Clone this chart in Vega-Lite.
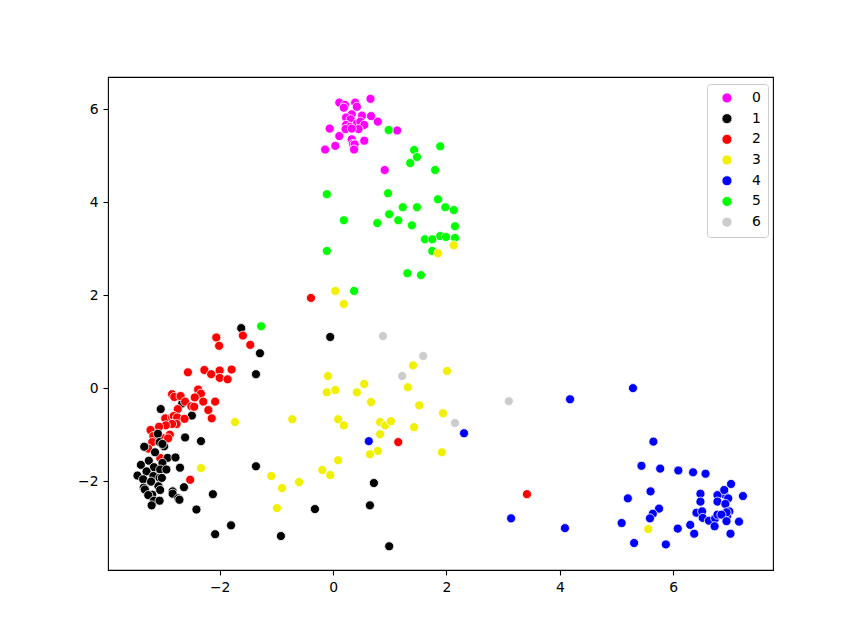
{"$schema":"https://vega.github.io/schema/vega-lite/v6.json","width":665,"height":493,"autosize":{"type":"none"},"padding":{"left":108,"top":77,"right":86,"bottom":69},"background":"white","config":{"view":{"stroke":"black","strokeWidth":1.1},"font":"DejaVu Sans"},
"data":{"values":[
{"x":-2.66,"y":-0.33,"c":"1"},{"x":-3.04,"y":-0.45,"c":"1"},{"x":-2.49,"y":-0.59,"c":"1"},{"x":-1.62,"y":1.29,"c":"1"},{"x":-0.05,"y":1.1,"c":"1"},{"x":-1.29,"y":0.75,"c":"1"},{"x":-1.36,"y":0.3,"c":"1"},
{"x":0.11,"y":6.14,"c":"0"},{"x":0.21,"y":6.09,"c":"0"},{"x":0.19,"y":6.03,"c":"0"},{"x":0.39,"y":6.14,"c":"0"},{"x":0.42,"y":6.05,"c":"0"},{"x":0.66,"y":6.22,"c":"0"},{"x":0.33,"y":5.89,"c":"0"},{"x":0.51,"y":5.86,"c":"0"},{"x":0.67,"y":5.85,"c":"0"},{"x":0.79,"y":5.73,"c":"0"},{"x":0.23,"y":5.82,"c":"0"},{"x":0.31,"y":5.78,"c":"0"},{"x":0.42,"y":5.69,"c":"0"},{"x":0.48,"y":5.73,"c":"0"},{"x":0.23,"y":5.66,"c":"0"},{"x":0.55,"y":5.66,"c":"0"},{"x":0.3,"y":5.62,"c":"0"},{"x":0.22,"y":5.57,"c":"0"},{"x":0.45,"y":5.57,"c":"0"},{"x":0.33,"y":5.58,"c":"0"},{"x":-0.06,"y":5.58,"c":"0"},{"x":1.13,"y":5.54,"c":"0"},{"x":0.11,"y":5.42,"c":"0"},{"x":0.33,"y":5.35,"c":"0"},{"x":0.55,"y":5.32,"c":"0"},{"x":0.35,"y":5.25,"c":"0"},{"x":0.38,"y":5.24,"c":"0"},{"x":0.04,"y":5.21,"c":"0"},{"x":0.37,"y":5.13,"c":"0"},{"x":-0.14,"y":5.13,"c":"0"},{"x":0.91,"y":4.69,"c":"0"},
{"x":0.98,"y":5.55,"c":"5"},{"x":1.43,"y":5.12,"c":"5"},{"x":1.48,"y":4.97,"c":"5"},{"x":1.36,"y":4.84,"c":"5"},{"x":1.89,"y":5.2,"c":"5"},{"x":1.8,"y":4.69,"c":"5"},{"x":-0.11,"y":4.17,"c":"5"},{"x":0.97,"y":4.19,"c":"5"},{"x":0.19,"y":3.61,"c":"5"},{"x":1.85,"y":4.06,"c":"5"},{"x":1.98,"y":3.89,"c":"5"},{"x":2.13,"y":3.83,"c":"5"},{"x":1.23,"y":3.89,"c":"5"},{"x":1.48,"y":3.89,"c":"5"},{"x":0.99,"y":3.74,"c":"5"},{"x":1.15,"y":3.61,"c":"5"},{"x":1.39,"y":3.5,"c":"5"},{"x":0.78,"y":3.55,"c":"5"},{"x":2.15,"y":3.48,"c":"5"},{"x":2.15,"y":3.23,"c":"5"},{"x":1.62,"y":3.2,"c":"5"},{"x":1.75,"y":3.2,"c":"5"},{"x":1.89,"y":3.27,"c":"5"},{"x":1.99,"y":3.25,"c":"5"},{"x":1.75,"y":2.95,"c":"5"},{"x":-0.11,"y":2.95,"c":"5"},{"x":1.31,"y":2.47,"c":"5"},{"x":1.55,"y":2.43,"c":"5"},{"x":0.37,"y":2.09,"c":"5"},{"x":-1.27,"y":1.33,"c":"5"},
{"x":1.85,"y":2.9,"c":"3"},{"x":2.13,"y":3.07,"c":"3"},{"x":0.04,"y":2.09,"c":"3"},{"x":0.19,"y":1.81,"c":"3"},{"x":-0.09,"y":0.26,"c":"3"},{"x":-0.11,"y":-0.09,"c":"3"},{"x":0.04,"y":-0.04,"c":"3"},{"x":0.42,"y":-0.09,"c":"3"},{"x":0.55,"y":0.09,"c":"3"},{"x":0.67,"y":-0.3,"c":"3"},{"x":1.41,"y":0.49,"c":"3"},{"x":1.32,"y":0.02,"c":"3"},{"x":2.01,"y":0.37,"c":"3"},{"x":1.94,"y":-0.54,"c":"3"},{"x":1.52,"y":-0.37,"c":"3"},{"x":1.43,"y":-0.84,"c":"3"},{"x":1.92,"y":-1.38,"c":"3"},{"x":-0.72,"y":-0.67,"c":"3"},{"x":-1.73,"y":-0.73,"c":"3"},{"x":0.09,"y":-0.67,"c":"3"},{"x":0.19,"y":-0.8,"c":"3"},{"x":0.83,"y":-0.73,"c":"3"},{"x":0.92,"y":-0.8,"c":"3"},{"x":1.02,"y":-0.71,"c":"3"},{"x":0.83,"y":-0.99,"c":"3"},{"x":0.79,"y":-1.35,"c":"3"},{"x":0.65,"y":-1.42,"c":"3"},{"x":0.09,"y":-1.55,"c":"3"},{"x":-0.19,"y":-1.76,"c":"3"},{"x":-0.05,"y":-1.87,"c":"3"},{"x":-1.09,"y":-1.89,"c":"3"},{"x":-0.6,"y":-2.02,"c":"3"},{"x":-0.9,"y":-2.15,"c":"3"},{"x":-0.99,"y":-2.58,"c":"3"},{"x":-2.33,"y":-1.72,"c":"3"},{"x":5.56,"y":-3.03,"c":"3"},
{"x":0.88,"y":1.12,"c":"6"},{"x":1.22,"y":0.26,"c":"6"},{"x":1.59,"y":0.69,"c":"6"},{"x":3.1,"y":-0.28,"c":"6"},{"x":2.15,"y":-0.75,"c":"6"},
{"x":0.63,"y":-1.14,"c":"4"},{"x":2.31,"y":-0.97,"c":"4"},{"x":4.18,"y":-0.24,"c":"4"},{"x":5.29,"y":0,"c":"4"},{"x":3.14,"y":-2.8,"c":"4"},{"x":4.09,"y":-3.01,"c":"4"},{"x":5.65,"y":-1.15,"c":"4"},{"x":5.44,"y":-1.67,"c":"4"},{"x":5.77,"y":-1.73,"c":"4"},{"x":6.09,"y":-1.77,"c":"4"},{"x":6.35,"y":-1.81,"c":"4"},{"x":6.57,"y":-1.84,"c":"4"},{"x":7.02,"y":-2.06,"c":"4"},{"x":5.6,"y":-2.22,"c":"4"},{"x":5.2,"y":-2.37,"c":"4"},{"x":6.48,"y":-2.27,"c":"4"},{"x":6.48,"y":-2.44,"c":"4"},{"x":6.9,"y":-2.28,"c":"4"},{"x":6.78,"y":-2.3,"c":"4"},{"x":6.9,"y":-2.19,"c":"4"},{"x":6.78,"y":-2.44,"c":"4"},{"x":6.97,"y":-2.37,"c":"4"},{"x":6.92,"y":-2.49,"c":"4"},{"x":7.23,"y":-2.32,"c":"4"},{"x":5.75,"y":-2.59,"c":"4"},{"x":5.64,"y":-2.7,"c":"4"},{"x":5.59,"y":-2.8,"c":"4"},{"x":5.09,"y":-2.9,"c":"4"},{"x":6.41,"y":-2.68,"c":"4"},{"x":6.51,"y":-2.65,"c":"4"},{"x":6.52,"y":-2.79,"c":"4"},{"x":6.63,"y":-2.85,"c":"4"},{"x":6.74,"y":-2.8,"c":"4"},{"x":6.78,"y":-2.72,"c":"4"},{"x":6.99,"y":-2.65,"c":"4"},{"x":6.95,"y":-2.75,"c":"4"},{"x":6.94,"y":-2.67,"c":"4"},{"x":6.85,"y":-2.72,"c":"4"},{"x":6.94,"y":-2.86,"c":"4"},{"x":6.73,"y":-2.97,"c":"4"},{"x":7.16,"y":-2.87,"c":"4"},{"x":6.3,"y":-2.94,"c":"4"},{"x":6.08,"y":-3.02,"c":"4"},{"x":6.37,"y":-3.13,"c":"4"},{"x":7.01,"y":-3.13,"c":"4"},{"x":5.31,"y":-3.33,"c":"4"},{"x":5.87,"y":-3.36,"c":"4"},
{"x":-0.39,"y":1.94,"c":"2"},{"x":1.15,"y":-1.16,"c":"2"},{"x":3.42,"y":-2.28,"c":"2"},{"x":-2.06,"y":1.09,"c":"2"},{"x":-1.59,"y":1.13,"c":"2"},{"x":-2.01,"y":0.91,"c":"2"},{"x":-1.46,"y":0.93,"c":"2"},{"x":-2.56,"y":0.34,"c":"2"},{"x":-2.27,"y":0.39,"c":"2"},{"x":-2.15,"y":0.3,"c":"2"},{"x":-2.0,"y":0.38,"c":"2"},{"x":-1.79,"y":0.4,"c":"2"},{"x":-2.0,"y":0.22,"c":"2"},{"x":-1.86,"y":0.19,"c":"2"},{"x":-2.38,"y":-0.03,"c":"2"},{"x":-2.33,"y":-0.12,"c":"2"},{"x":-2.84,"y":-0.13,"c":"2"},{"x":-2.8,"y":-0.19,"c":"2"},{"x":-2.69,"y":-0.17,"c":"2"},{"x":-2.44,"y":-0.2,"c":"2"},{"x":-2.61,"y":-0.29,"c":"2"},{"x":-2.29,"y":-0.29,"c":"2"},{"x":-2.08,"y":-0.29,"c":"2"},{"x":-2.5,"y":-0.39,"c":"2"},{"x":-2.45,"y":-0.4,"c":"2"},{"x":-2.74,"y":-0.45,"c":"2"},{"x":-2.2,"y":-0.47,"c":"2"},{"x":-2.14,"y":-0.65,"c":"2"},{"x":-2.96,"y":-0.65,"c":"2"},{"x":-2.84,"y":-0.63,"c":"2"},{"x":-2.81,"y":-0.6,"c":"2"},{"x":-2.75,"y":-0.63,"c":"2"},{"x":-2.62,"y":-0.66,"c":"2"},{"x":-2.76,"y":-0.77,"c":"2"},{"x":-2.84,"y":-0.77,"c":"2"},{"x":-2.95,"y":-0.8,"c":"2"},{"x":-3.07,"y":-0.83,"c":"2"},{"x":-3.22,"y":-0.9,"c":"2"},{"x":-2.88,"y":-1.0,"c":"2"},{"x":-3.17,"y":-1.03,"c":"2"},{"x":-2.99,"y":-1.08,"c":"2"},{"x":-2.91,"y":-1.08,"c":"2"},{"x":-3.19,"y":-1.16,"c":"2"},{"x":-3.26,"y":-1.3,"c":"2"},{"x":-3.05,"y":-1.5,"c":"2"},{"x":-2.52,"y":-1.97,"c":"2"},
{"x":-1.36,"y":-1.68,"c":"1"},{"x":0.72,"y":-2.04,"c":"1"},{"x":0.65,"y":-2.52,"c":"1"},{"x":-0.32,"y":-2.6,"c":"1"},{"x":-0.92,"y":-3.18,"c":"1"},{"x":0.99,"y":-3.4,"c":"1"},{"x":-1.8,"y":-2.95,"c":"1"},{"x":-2.08,"y":-3.14,"c":"1"},{"x":-2.12,"y":-2.28,"c":"1"},{"x":-2.33,"y":-1.14,"c":"1"},{"x":-2.61,"y":-1.06,"c":"1"},{"x":-3.09,"y":-0.98,"c":"1"},{"x":-3.06,"y":-1.16,"c":"1"},{"x":-2.98,"y":-1.25,"c":"1"},{"x":-3.01,"y":-1.2,"c":"1"},{"x":-3.33,"y":-1.26,"c":"1"},{"x":-3.14,"y":-1.38,"c":"1"},{"x":-2.92,"y":-1.5,"c":"1"},{"x":-2.78,"y":-1.49,"c":"1"},{"x":-3.25,"y":-1.56,"c":"1"},{"x":-3.01,"y":-1.61,"c":"1"},{"x":-3.39,"y":-1.65,"c":"1"},{"x":-2.7,"y":-1.71,"c":"1"},{"x":-3.16,"y":-1.7,"c":"1"},{"x":-3.05,"y":-1.75,"c":"1"},{"x":-2.94,"y":-1.75,"c":"1"},{"x":-3.29,"y":-1.79,"c":"1"},{"x":-3.45,"y":-1.88,"c":"1"},{"x":-3.17,"y":-1.89,"c":"1"},{"x":-3.06,"y":-1.93,"c":"1"},{"x":-3.02,"y":-1.93,"c":"1"},{"x":-3.35,"y":-1.96,"c":"1"},{"x":-3.21,"y":-2.01,"c":"1"},{"x":-3.08,"y":-2.11,"c":"1"},{"x":-3.34,"y":-2.14,"c":"1"},{"x":-3.32,"y":-2.18,"c":"1"},{"x":-3.05,"y":-2.19,"c":"1"},{"x":-2.63,"y":-2.13,"c":"1"},{"x":-3.19,"y":-2.29,"c":"1"},{"x":-3.26,"y":-2.3,"c":"1"},{"x":-2.83,"y":-2.22,"c":"1"},{"x":-2.83,"y":-2.27,"c":"1"},{"x":-2.73,"y":-2.37,"c":"1"},{"x":-2.71,"y":-2.4,"c":"1"},{"x":-3.16,"y":-2.42,"c":"1"},{"x":-3.06,"y":-2.42,"c":"1"},{"x":-3.2,"y":-2.52,"c":"1"},{"x":-2.41,"y":-2.61,"c":"1"}
]},
"mark":{"type":"point","filled":true,"opacity":1,"size":82,"stroke":"white","strokeWidth":0.8,"clip":true},
"encoding":{
"x":{"field":"x","type":"quantitative","scale":{"domain":[-3.97,7.76],"nice":false,"zero":false},"axis":{"title":null,"grid":false,"domain":false,"values":[-2,0,2,4,6],"format":"d","tickColor":"black","tickWidth":1.1,"tickSize":5,"labelColor":"black","labelFontSize":13.9,"labelFont":"DejaVu Sans","labelPadding":5}},
"y":{"field":"y","type":"quantitative","scale":{"domain":[-3.91,6.69],"nice":false,"zero":false},"axis":{"title":null,"grid":false,"domain":false,"values":[-2,0,2,4,6],"format":"d","tickColor":"black","tickWidth":1.1,"tickSize":5,"labelColor":"black","labelFontSize":13.9,"labelFont":"DejaVu Sans","labelPadding":5}},
"color":{"field":"c","type":"nominal","scale":{"domain":["0","1","2","3","4","5","6"],"range":["#ff00ff","#000000","#ff0000","#f0f000","#0000ff","#00ff00","#cccccc"]},"legend":{"title":null,"orient":"none","legendX":599,"legendY":7,"direction":"vertical","fillColor":"white","strokeColor":"#cccccc","cornerRadius":3,"padding":7,"symbolSize":100,"symbolOffset":6,"symbolStrokeColor":"white","symbolStrokeWidth":0.8,"symbolType":"circle","labelFontSize":13.9,"labelFont":"DejaVu Sans","labelColor":"black","labelOffset":18,"rowPadding":5.7,"symbolOpacity":1}}
}}
